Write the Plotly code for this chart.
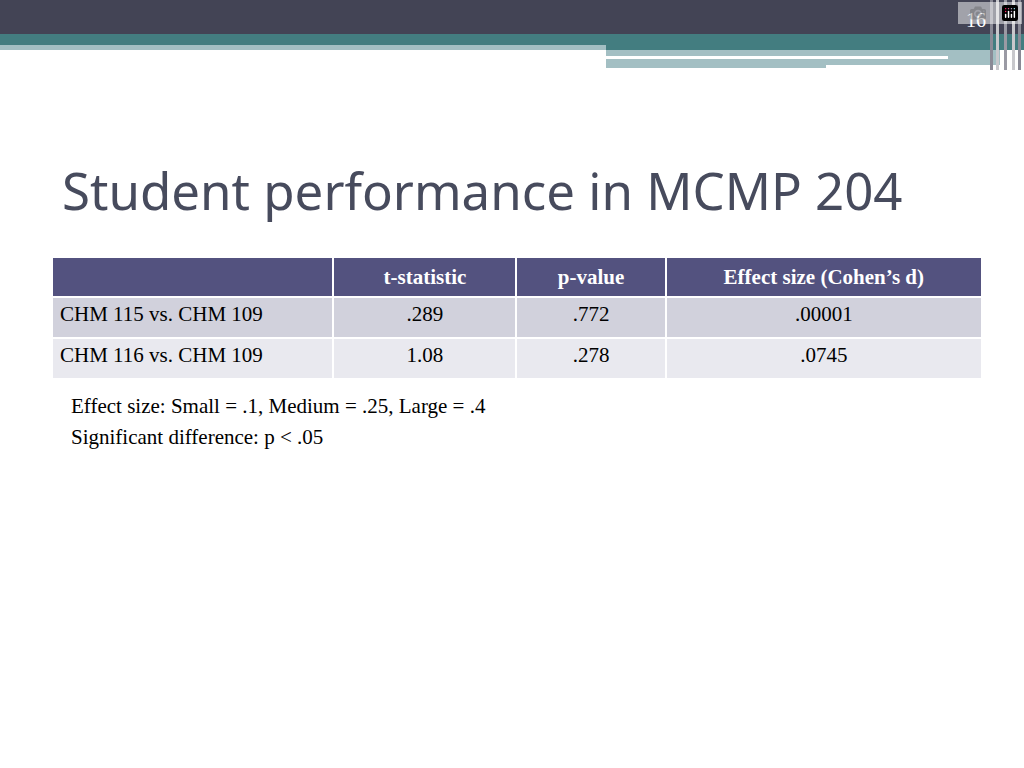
import plotly.graph_objects as go

W, H = 1024, 768
columns = ["", "t-statistic", "p-value", "Effect size (Cohen’s d)"]
comparisons = ["CHM 115 vs. CHM 109", "CHM 116 vs. CHM 109"]
t_stat = [".289", "1.08"]
p_value = [".772", ".278"]
effect = [".00001", ".0745"]
title = "Student performance in MCMP 204"
notes = ["Effect size: Small = .1, Medium = .25, Large = .4",
         "Significant difference: p < .05"]
page_no = "16"

def px(x): return x / W
def py(y): return 1 - y / H

fig = go.Figure()
fig.add_trace(go.Table(
    domain=dict(x=[px(52), px(982)], y=[py(382), py(257)]),
    columnwidth=[281, 183, 149, 316],
    header=dict(values=["<b>%s</b>" % c if c else "" for c in columns],
                fill_color="#53527f", line=dict(color="white", width=2),
                font=dict(family="Liberation Serif", size=21, color="white"),
                align=["left", "center", "center", "center"], height=40),
    cells=dict(values=[comparisons, t_stat, p_value, effect],
               fill_color=[["#d1d1dc", "#e9e9ef"]] * 4,
               line=dict(color="white", width=2),
               font=dict(family="Liberation Serif", size=21, color="black"),
               align=["left", "center", "center", "center"], height=41),
))

shapes = []
def rect(x0, y0, x1, y1, c):
    shapes.append(dict(type="rect", xref="paper", yref="paper", x0=px(x0), x1=px(x1),
                       y0=py(y1), y1=py(y0), fillcolor=c, line=dict(width=0), layer="below"))
rect(0, 0, 1024, 34, "#434455")
rect(0, 34, 1024, 45, "#437d80")
rect(0, 45, 606, 50, "#a3bfc3")
rect(606, 45, 1024, 50, "#437d80")
rect(606, 50, 1000, 68, "#a3bfc3")
rect(606, 56, 948, 59, "#ffffff")
rect(826, 65, 1000, 70, "#ffffff")
for x, c in [(990, "#8a8a96"), (996, "#c8c8cc"), (1004, "#9a9aa4"), (1012, "#c8c8cc"), (1018, "#8a8a96")]:
    rect(x, 0, x + 3, 70, c)

ann = [dict(text=title, x=px(60), y=py(190), xref="paper", yref="paper", xanchor="left",
            yanchor="middle", showarrow=False,
            font=dict(family="Noto Sans", size=51, color="#474b5d")),
       dict(text=page_no, x=px(988), y=py(20), xref="paper", yref="paper", xanchor="right",
            yanchor="middle", showarrow=False,
            font=dict(family="Liberation Serif", size=20, color="white"))]
for i, n in enumerate(notes):
    ann.append(dict(text=n, x=px(69), y=py(406 + 31 * i), xref="paper", yref="paper",
                    xanchor="left", yanchor="middle", showarrow=False,
                    font=dict(family="Liberation Serif", size=21, color="black")))

fig.update_layout(width=W, height=H, margin=dict(l=0, r=0, t=0, b=0),
                  paper_bgcolor="white", plot_bgcolor="white",
                  shapes=shapes, annotations=ann)
fig.write_html("out.html", post_script="document.body.style.margin='0';document.body.style.overflow='hidden';")
